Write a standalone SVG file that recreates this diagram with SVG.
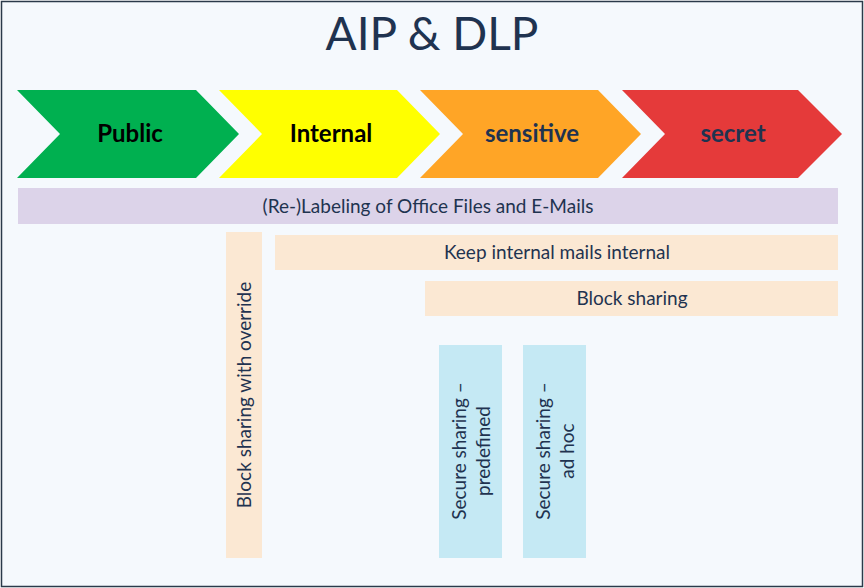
<svg xmlns="http://www.w3.org/2000/svg" width="864" height="588" viewBox="0 0 864 588">
<style>
.t{font-family:Lato,"Open Sans",sans-serif;font-size:19px;fill:#1f3350;text-anchor:middle}
.c{font-family:Lato,sans-serif;font-size:24px;font-weight:bold;text-anchor:middle}
.peach{fill:#fbe8d3}.blue{fill:#c5e9f4}
</style>
<rect x="1.5" y="1.5" width="861" height="585" fill="#f5f9fd" stroke="#2b3a4a" stroke-width="1.5"/>
<text x="432" y="50" font-family="Lato,sans-serif" font-size="46" fill="#1f3350" text-anchor="middle">AIP &amp; DLP</text>
<g id="public"><polygon points="17,90 196,90 239,134 196,178 17,178 60,134" fill="#00b050"/><text class="c" x="130" y="142" fill="#000">Public</text></g>
<g id="internal"><polygon points="219,90 397,90 440,134 397,178 219,178 262,134" fill="#ffff00"/><text class="c" x="331" y="142" fill="#000">Internal</text></g>
<g id="sensitive"><polygon points="420,90 598,90 641,134 598,178 420,178 463,134" fill="#ffa526"/><text class="c" x="532" y="142" fill="#1f3350">sensitive</text></g>
<g id="secret"><polygon points="622,90 798,90 842,134 798,178 622,178 665,134" fill="#e53a3a"/><text class="c" x="733" y="142" fill="#1f3350">secret</text></g>
<g id="labeling"><rect x="18" y="188" width="820" height="36" fill="#dcd3e9"/><text class="t" x="428" y="213">(Re-)Labeling of Office Files and E-Mails</text></g>
<g id="keep"><rect class="peach" x="275" y="235" width="563" height="35"/><text class="t" x="557" y="259">Keep internal mails internal</text></g>
<g id="block"><rect class="peach" x="425" y="281" width="413" height="35"/><text class="t" x="632" y="305">Block sharing</text></g>
<g id="override"><rect class="peach" x="226" y="232" width="36" height="326"/><text class="t" transform="translate(251,395) rotate(-90)">Block sharing with override</text></g>
<g id="predefined"><rect class="blue" x="439" y="345" width="63" height="213"/><text class="t" transform="translate(466,451) rotate(-90)">Secure sharing –</text><text class="t" transform="translate(490,451) rotate(-90)">predefined</text></g>
<g id="adhoc"><rect class="blue" x="523" y="345" width="63" height="213"/><text class="t" transform="translate(550,451) rotate(-90)">Secure sharing –</text><text class="t" transform="translate(574,451) rotate(-90)">ad hoc</text></g>
<g id="connectors"/>
</svg>
